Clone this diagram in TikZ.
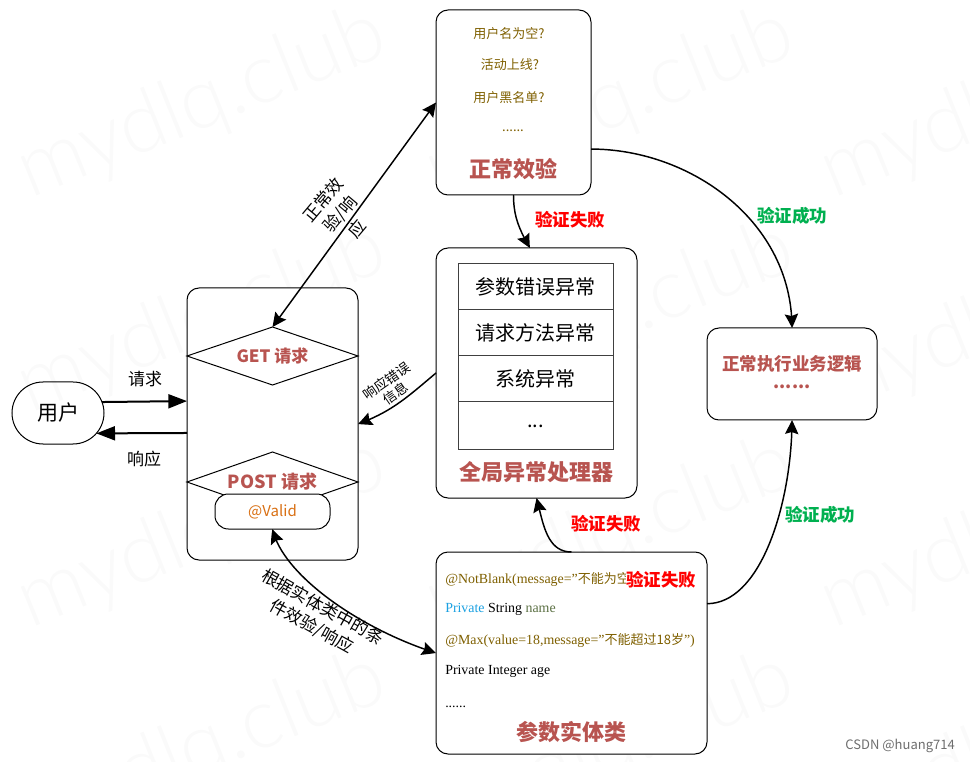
\documentclass[tikz,border=0pt]{standalone}
\usepackage{fontspec}
\usetikzlibrary{arrows.meta,shapes.geometric,shapes.misc,bending}
\setmainfont{Liberation Serif}
\newfontfamily\cjk{Noto Sans CJK SC}
\newfontfamily\wmf{Lato Light}
\newcommand\fs[1]{\fontsize{\fpeval{#1*0.75}}{\fpeval{#1*0.9}}\selectfont}
\definecolor{titlered}{HTML}{B85450}
\definecolor{gold}{HTML}{7F6000}
\definecolor{okgreen}{HTML}{00B050}
\definecolor{wmgray}{HTML}{FAFAFA}
\tikzset{
  x=0.75pt,y=-0.75pt,
  box/.style={draw,line width=0.75pt,rounded corners=9pt,inner sep=0pt,outer sep=0pt,fill=white},
  cell/.style={draw=black!75,line width=0.75pt,inner sep=0pt,outer sep=0pt,minimum width=116.25pt,minimum height=34.5pt,font=\cjk\fs{20}},
  dia/.style={diamond,draw,line width=0.75pt,inner sep=0pt,outer sep=0pt,aspect=2.9,minimum width=128.25pt,font=\cjk\bfseries\fs{17},text=titlered},
  title/.style={font=\cjk\bfseries\fs{22},text=titlered},
  gold/.style={font=\cjk\fs{13},text=gold},
  fail/.style={font=\cjk\bfseries\fs{17.5},text=red},
  okay/.style={font=\cjk\bfseries\fs{17.5},text=okgreen},
  lab/.style={font=\cjk\fs{17},align=center},
  ent/.style={anchor=west,inner sep=0pt,font=\rmfamily\fs{13.9}},
  wm/.style={font=\wmf\fs{84},text=wmgray,rotate=22,anchor=base west,inner sep=0pt},
  arr/.style={line width=1.1pt,-{Stealth[length=10.5pt,width=10pt,inset=1.5pt,bend]}},
  darr/.style={line width=1.1pt,{Stealth[length=10.5pt,width=10pt,inset=1.5pt,bend]}-{Stealth[length=10.5pt,width=10pt,inset=1.5pt,bend]}},
  harr/.style={line width=1.5pt,-{Stealth[length=14pt,width=10.5pt,inset=0pt]}},
}
\begin{document}
\begin{tikzpicture}
\useasboundingbox (0,0) rectangle (970,762);
% watermark
\node[wm] (w1) at (30,199) {mydlq.club};
\node[wm] (w2) at (438,199) {mydlq.club};
\node[wm] (w3) at (833,199) {mydlq.club};
\node[wm] (w4) at (30,414) {mydlq.club};
\node[wm] (w5) at (438,414) {mydlq.club};
\node[wm] (w6) at (833,414) {mydlq.club};
\node[wm] (w7) at (30,629) {mydlq.club};
\node[wm] (w8) at (438,629) {mydlq.club};
\node[wm] (w9) at (833,629) {mydlq.club};
\node[wm] (w10) at (30,844) {mydlq.club};
\node[wm] (w11) at (438,844) {mydlq.club};
\node[wm] (w12) at (833,844) {mydlq.club};
% boxes
\node[box,minimum width=116.25pt,minimum height=138.75pt] (normal) at (513.5,102.5) {};
\node[box,minimum width=150.75pt,minimum height=187.5pt] (global) at (536.5,373) {};
\node[box,minimum width=127.5pt,minimum height=69pt] (biz) at (792,374) {};
\node[box,minimum width=203.25pt,minimum height=151.5pt] (entity) at (571.5,653) {};
\node[box,minimum width=128.25pt,minimum height=204pt] (req) at (272.5,424) {};
\node[rounded rectangle,draw,line width=0.75pt,inner sep=0pt,outer sep=0pt,minimum width=69pt,minimum height=46.5pt,font=\cjk\fs{21}] (user) at (58,413) {用户};
% diamonds
\node[dia,minimum height=43.5pt] (getd) at (272.5,356) {GET 请求};
\node[dia,minimum height=45pt,font=\cjk\bfseries\fs{18}] (postd) at (272.5,482) {POST 请求};
\node[box,rounded corners=10pt,minimum width=86.25pt,minimum height=26.25pt,font=\cjk\fs{15},text={rgb,255:red,217;green,112;blue,20}] (valid) at (272.5,511.5) {@Valid};
% normal box
\node[gold] (n1) at (509,33.5) {用户名为空?};
\node[gold] (n2) at (510,64.5) {活动上线?};
\node[gold] (n3) at (509,97.5) {用户黑名单?};
\node[gold] (n4) at (513,131) {......};
\node[title] (n5) at (513,169) {正常效验};
% stack
\node[cell] (c1) at (535.5,286.5) {参数错误异常};
\node[cell] (c2) at (535.5,332.5) {请求方法异常};
\node[cell] (c3) at (535.5,378.5) {系统异常};
\node[cell,minimum height=35.25pt] (c4) at (535.5,425.5) {\raisebox{-3pt}{...}};
\node[title] (g5) at (536,472) {全局异常处理器};
% business
\node[font=\cjk\bfseries\fs{17.5},text=titlered] (b1) at (792,364) {正常执行业务逻辑};
\node[font=\cjk\bfseries\fs{17.5},text=titlered] (b2) at (792,387) {......};
% entity
\node[ent,text=gold] (e1) at (445,579) {@NotBlank(message=”{\cjk\fs{13}{}不能为空}};
\node[ent] (e2) at (445,609.5) {\textcolor[HTML]{1BA1E2}{Private} String \textcolor[HTML]{5B7043}{name}};
\node[ent,text=gold] (e3) at (445,640.5) {@Max(value=18,message=”{\cjk\fs{13}{}不能超过18岁}”)};
\node[ent] (e4) at (445,671.5) {Private Integer age};
\node[ent] (e5) at (445,707) {......};
\node[title] (e6) at (571,732) {参数实体类};
% connectors
\draw[darr] (normal.west) -- (getd.north);
\draw[arr] (normal.south) to[out=-90,in=120] (global.93);
\draw[arr] (normal.-31) .. controls +(99,0) and +(0,-107) .. (biz.north);
\draw[arr] (global.west) to[out=-140,in=20] (req.east);
\draw[arr] (entity.north) to[out=180,in=-75] (global.south);
\draw[arr] (entity.20.6) .. controls +(55,0) and +(0,80) .. (biz.south);
\draw[darr] (valid.south) .. controls +(10,46) and +(-76,-24) .. (entity.west);
\draw[harr] (user.14) -- (req.165);
\draw[harr] (req.186) -- (user.-28);
% labels
\node[lab] (l1) at (145,379) {请求};
\node[lab] (l2) at (144,459) {响应};
\node[lab,rotate=50] (l3) at (340,214) {正常效\\[1.5pt]验/响\\[1.5pt]应};
\node[lab,font=\cjk\fs{13.5},rotate=35] (l4) at (391,387) {响应错误\\[-1pt]信息};
\node[lab,rotate=-29] (l5) at (317,617) {根据实体类中的条\\[1pt]件效验/响应};
\node[fail] (f1) at (570,220) {验证失败};
\node[fail] (f2) at (606,524) {验证失败};
\node[fail,fill=white,inner sep=0pt] (f3) at (661,580) {验证失败};
\node[okay] (o1) at (792,216) {验证成功};
\node[okay] (o2) at (820,515) {验证成功};
\node[font=\cjk\fs{13},text={rgb,255:red,110;green,110;blue,110},anchor=east,inner sep=0pt] (csdn) at (955,746) {CSDN @huang714};
\end{tikzpicture}
\end{document}
